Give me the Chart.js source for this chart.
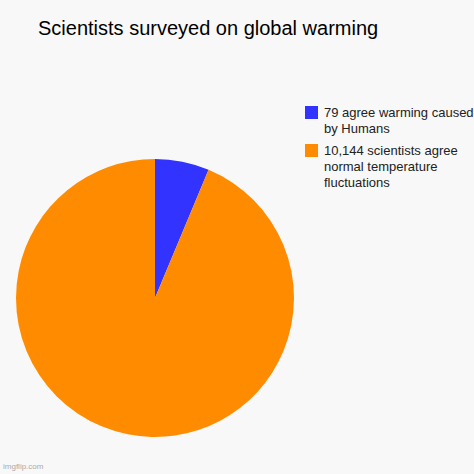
<!DOCTYPE html>
<html>
<head>
<meta charset="utf-8">
<script src="https://cdn.jsdelivr.net/npm/chart.js@4"></script>
<style>
  body { margin: 0; background: #f8f8f8; font-family: "Liberation Sans", Arial, sans-serif; }
  #wrap { position: relative; width: 474px; height: 474px; background: #f8f8f8; }
  #title { position: absolute; left: 0; width: 474px; top: 17px; text-align: left; padding-left: 38px; box-sizing: border-box; font-size: 20px; color: #000; }
  #pieBox { position: absolute; left: 16px; top: 159px; width: 278px; height: 278px; }
  .leg { position: absolute; left: 305px; font-size: 13px; line-height: 16px; color: #222; }
  .sw { position: absolute; left: 0; top: 1px; width: 13px; height: 13px; }
  .txt { position: absolute; left: 19px; top: 0; width: 160px; }
  #mark { position: absolute; left: 3px; bottom: 3px; font-size: 8px; color: #aaa; }
</style>
</head>
<body>
<div id="wrap">
  <div id="title">Scientists surveyed on global warming</div>
  <div id="pieBox"><canvas id="pie"></canvas></div>
  <div id="legend"></div>
  <div id="mark">imgflip.com</div>
</div>
<script>
const labels = ['79 agree warming caused by Humans', '10,144 scientists agree normal temperature fluctuations'];
const values = [6.3, 93.7];
const colors = ['#3333ff', '#ff8c00'];
const legendTops = [105, 143];

const legend = document.getElementById('legend');
labels.forEach((l, i) => {
  const d = document.createElement('div');
  d.className = 'leg';
  d.style.top = legendTops[i] + 'px';
  d.innerHTML = `<span class="sw" style="background:${colors[i]}"></span><span class="txt">${l}</span>`;
  legend.appendChild(d);
});

new Chart(document.getElementById('pie').getContext('2d'), {
  type: 'pie',
  data: {
    labels: labels,
    datasets: [{ data: values, backgroundColor: colors, borderWidth: 0 }]
  },
  options: {
    responsive: true,
    maintainAspectRatio: false,
    animation: false,
    plugins: { legend: { display: false }, tooltip: { enabled: false } }
  }
});
</script>
</body>
</html>
